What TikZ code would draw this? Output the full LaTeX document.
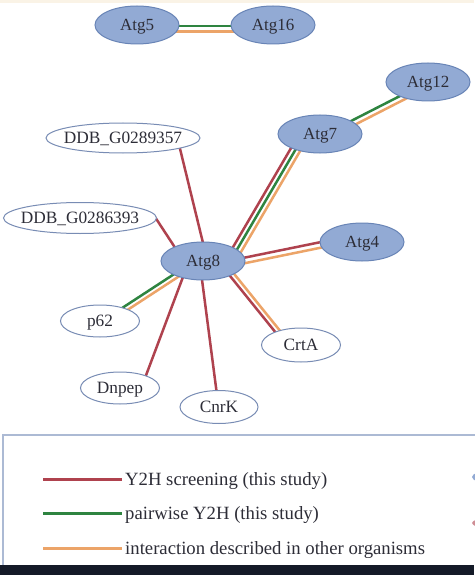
\documentclass[tikz,border=0pt]{standalone}
\usepackage{fontspec}
\setmainfont{Liberation Serif}
\usetikzlibrary{shapes.geometric,calc}
\pgfdeclarelayer{bgl}
\pgfdeclarelayer{edges}
\pgfsetlayers{bgl,edges,main}
\definecolor{nodeblue}{RGB}{146,170,212}
\definecolor{nodeedge}{RGB}{104,132,182}
\definecolor{wedge}{RGB}{120,140,180}
\definecolor{ered}{RGB}{175,66,78}
\definecolor{egreen}{RGB}{46,132,64}
\definecolor{eorange}{RGB}{236,164,104}
\definecolor{txt}{RGB}{45,45,55}
\definecolor{legframe}{RGB}{172,186,212}
\definecolor{darkband}{RGB}{20,26,40}
\definecolor{cream}{RGB}{250,243,230}
\newcommand\zc[1]{\makebox[0pt]{#1}}
\begin{document}
\begin{tikzpicture}[x=1pt,y=-1pt,
  bnode/.style={ellipse,draw=nodeedge,fill=nodeblue,line width=1pt,minimum width=84pt,minimum height=38pt,inner sep=0pt,outer sep=0pt,text depth=0pt,font=\fontsize{17}{17}\selectfont,text=txt},
  wnode/.style={ellipse,draw=wedge,fill=white,line width=1pt,inner sep=0pt,outer sep=0pt,text depth=0pt,font=\fontsize{17.3}{17}\selectfont,text=txt},
  rline/.style={draw=ered,line width=2.5pt},
  gline/.style={draw=egreen,line width=2.5pt},
  oline/.style={draw=eorange,line width=2.5pt},
  legline/.style={line width=3pt},
  legtext/.style={anchor=base west,inner sep=0pt,font=\fontsize{18.7}{19}\selectfont,text=txt}]
\useasboundingbox (0,0) rectangle (474,575);
\begin{pgfonlayer}{bgl}
\fill[white] (0,0) rectangle (474,575);
\fill[cream] (0,0) rectangle (474,3);
\end{pgfonlayer}
% nodes
\node[bnode] (atg5) at (137,25) {\zc{Atg5}};
\node[bnode] (atg16) at (273,25) {\zc{Atg16}};
\node[bnode] (atg12) at (428,82) {\zc{Atg12}};
\node[bnode] (atg7) at (320,134) {\zc{Atg7}};
\node[bnode] (atg4) at (362,242) {\zc{Atg4}};
\node[bnode] (atg8) at (203,261) {\zc{Atg8}};
\node[wnode,minimum width=154pt,minimum height=30pt] (ddba) at (123,138) {\zc{DDB\_G0289357}};
\node[wnode,minimum width=153pt,minimum height=31pt] (ddbb) at (80,218) {\zc{DDB\_G0286393}};
\node[wnode,minimum width=79pt,minimum height=32pt] (p62) at (100,321) {\zc{p62}};
\node[wnode,minimum width=79pt,minimum height=34pt] (crta) at (301,345) {\zc{CrtA}};
\node[wnode,minimum width=79pt,minimum height=32pt] (dnpep) at (120,388) {\zc{Dnpep}};
\node[wnode,minimum width=78pt,minimum height=33pt] (cnrk) at (219,407) {\zc{CnrK}};
% edges
\begin{pgfonlayer}{edges}
\draw[gline] ($(atg5)+(30,1)$) -- ($(atg16)+(-30,1)$);
\draw[oline] ($(atg5)+(30,6.5)$) -- ($(atg16)+(-30,6.5)$);
\draw[gline] ($(atg7)+(26,-10.4)$) -- ($(atg12)+(-21,10.4)$);
\draw[oline] ($(atg7)+(28.3,-5.9)$) -- ($(atg12)+(-18.7,14.9)$);
\draw[rline] ($(atg8)+(26,-7)$) -- ($(atg7)+(-26,9)$);
\draw[gline] ($(atg8)+(30,-4.6)$) -- ($(atg7)+(-22,11.4)$);
\draw[oline] ($(atg8)+(34,-2.2)$) -- ($(atg7)+(-18,13.8)$);
\draw[rline] ($(atg8)+(32,-1.4)$) -- ($(atg4)+(-33,-1.6)$);
\draw[oline] ($(atg8)+(33.1,4)$) -- ($(atg4)+(-32,3.8)$);
\draw[gline] ($(p62)+(20,-11.6)$) -- ($(atg8)+(-26,11.2)$);
\draw[oline] ($(p62)+(22.5,-7.8)$) -- ($(atg8)+(-23.5,15)$);
\draw[rline] ($(dnpep)+(25.2,-10.5)$) -- ($(atg8)+(-17.2,8.5)$);
\draw[rline] ($(cnrk)+(-2,-12)$) -- ($(atg8)+(-2,11)$);
\draw[rline] ($(atg8)+(25.3,12.8)$) -- ($(crta)+(-21,-7.1)$);
\draw[oline] ($(atg8)+(28.8,10)$) -- ($(crta)+(-17.5,-9.9)$);
\draw[rline] ($(ddba)+(55,2.5)$) -- ($(atg8)+(1.6,-11.5)$);
\draw[rline] ($(ddbb)+(75,-1)$) -- ($(atg8)+(-25.3,-9.3)$);
\end{pgfonlayer}
% legend
\draw[legframe,line width=1.2pt] (3,435) rectangle (490,590);
\draw[legline,ered] (43,479) -- (122,479);
\draw[legline,egreen] (43,513) -- (122,513);
\draw[legline,eorange] (43,548) -- (122,548);
\node[legtext] (l1) at (125,485.7) {Y2H screening (this study)};
\node[legtext] (l2) at (125,519.7) {pairwise Y2H (this study)};
\node[legtext] (l3) at (125,554.7) {interaction described in other organisms};
\fill[nodeblue] (490,477) ellipse (18 and 6);
\fill[ered!60] (490,523) ellipse (18 and 5);
\fill[darkband] (0,565) rectangle (474,575);
\end{tikzpicture}
\end{document}
